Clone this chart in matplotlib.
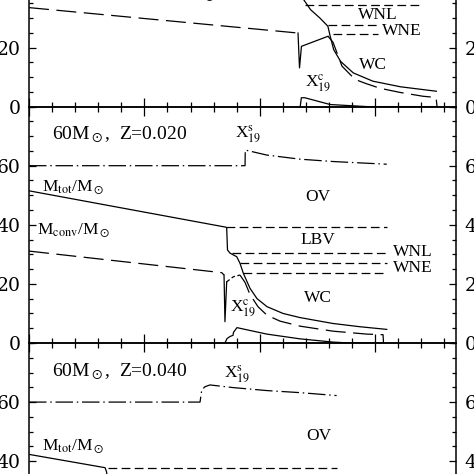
import matplotlib
matplotlib.use("Agg")
import matplotlib.pyplot as plt
from matplotlib.ticker import MultipleLocator, FixedLocator

plt.rcParams['font.family'] = ['Liberation Serif', 'DejaVu Serif']
plt.rcParams['mathtext.fontset'] = 'stix'

# ---- upper panel (only its lower part is visible) ----
t_tot_a = [0.00, 2.33, 2.36, 2.38, 2.44, 2.52, 2.59, 2.61, 2.64, 2.70, 2.81, 2.98, 3.22, 3.53]
m_tot_a = [57.0, 41.0, 38.5, 36.2, 32.8, 30.0, 27.2, 23.8, 19.3, 15.3, 11.4, 8.6, 6.7, 5.2]
t_conv_a = [0.00, 2.331, 2.344, 2.361, 2.591, 2.634, 2.712, 2.825, 2.920, 3.042, 3.215, 3.414, 3.527, 3.536]
m_conv_a = [33.5, 24.9, 13.1, 20.4, 23.8, 21.8, 13.7, 9.2, 7.8, 6.2, 4.8, 3.5, 3.1, 0.0]
t_x19c_a = [2.35, 2.36, 2.39, 2.61, 2.93, 3.535]
x19c_a = [0.0, 3.0, 3.0, 0.7, 0.0, 0.0]
bound_a_y = [34.5, 27.5, 24.6]
bound_a_t0 = [2.39, 2.59, 2.63]
bound_a_t1 = [3.41, 3.02, 3.02]

# ---- middle panel: 60 Msun, Z=0.020 ----
t_x19s_b = [0.00, 1.872, 1.874, 2.06, 2.35, 2.64, 3.10]
x19s_b = [60.0, 60.0, 65.3, 63.6, 62.2, 61.4, 60.5]
t_tot_b = [0.0, 1.705, 1.713, 1.720, 1.742, 1.800, 1.828, 1.857, 1.915, 1.976,
           2.062, 2.201, 2.348, 2.634, 2.868, 3.100]
m_tot_b = [51.5, 39.2, 39.0, 31.5, 30.4, 29.2, 27.0, 23.6, 18.5, 15.0,
           12.3, 10.0, 8.6, 6.6, 5.5, 4.6]
t_conv_b = [0.0, 1.670, 1.690, 1.698, 1.713, 1.770, 1.828, 1.872, 1.915, 1.984,
            2.062, 2.175, 2.348, 2.634, 2.929, 3.068, 3.072]
m_conv_b = [31.1, 23.8, 23.0, 7.2, 20.7, 22.4, 23.0, 20.5, 16.4, 12.3,
            9.4, 7.4, 5.7, 4.0, 3.0, 2.8, 0.0]
t_x19c_b = [1.698, 1.716, 1.742, 1.768, 1.772, 1.802, 1.872, 2.062, 2.348, 2.634, 2.782, 3.068]
x19c_b = [0.0, 1.5, 2.2, 2.6, 3.6, 5.2, 4.6, 3.0, 1.4, 0.3, 0.0, 0.0]
bound_b_y = [39.1, 30.4, 27.0, 23.6]
bound_b_t0 = [1.707, 1.757, 1.828, 1.857]
bound_b_t1 = [3.10, 3.10, 3.10, 3.10]

# ---- lower panel: 60 Msun, Z=0.040 (only its upper part is visible) ----
t_x19s_c = [0.00, 1.482, 1.497, 1.525, 1.568, 1.770, 2.060, 2.348, 2.666]
x19s_c = [60.0, 60.0, 64.1, 65.2, 65.8, 64.9, 63.9, 63.2, 62.2]
t_tot_c = [0.00, 0.659, 0.672, 0.68]
m_tot_c = [42.3, 37.8, 36.4, 34.0]
bound_c_y = [37.6]
bound_c_t0 = [0.685]
bound_c_t1 = [2.669]

LONG = (0, (16, 6))
SHORT = (0, (7, 3.5))
FINE = (0, (3, 2))
DASHDOT = (0, (14, 3, 1.2, 3))
FS = 12.5
LW = 0.9


def setup_axes(ax):
    ax.set_facecolor('none')
    ax.set_xlim(0, 3.7)
    ax.set_ylim(0, 80)
    ax.xaxis.set_major_locator(MultipleLocator(1))
    ax.xaxis.set_minor_locator(MultipleLocator(0.2))
    ax.yaxis.set_major_locator(FixedLocator([0, 20, 40, 60]))
    ax.yaxis.set_minor_locator(MultipleLocator(5))
    ax.tick_params(axis='x', which='major', direction='inout', length=13, width=0.9,
                   bottom=True, top=False, labelbottom=False)
    ax.tick_params(axis='x', which='minor', direction='inout', length=6.5, width=0.9,
                   bottom=True, top=False)
    ax.tick_params(axis='y', which='major', direction='in', length=5, width=0.9,
                   left=True, right=True, labelleft=True, labelright=True,
                   labelsize=13.5, pad=6)
    ax.tick_params(axis='y', which='minor', direction='in', length=3, width=0.9,
                   left=True, right=True)
    for lab in ax.get_yticklabels():
        lab.set_family('DejaVu Serif')
    for s in ax.spines.values():
        s.set_linewidth(1.1)


def boundaries(ax, ys, t0, t1):
    for y, a, b in zip(ys, t0, t1):
        ax.plot([a, b], [y, y], color='k', lw=LW, linestyle=SHORT)


fig = plt.figure(figsize=(4.74, 4.74), dpi=100)
left, width, height = 0.0612, 0.9008, 0.4987
ax1 = fig.add_axes([left, 0.7751, width, height])
ax2 = fig.add_axes([left, 0.2764, width, height])
ax3 = fig.add_axes([left, 0.2764 - height, width, height])
for ax in (ax1, ax2, ax3):
    setup_axes(ax)

# upper panel
ax1.plot(t_tot_a, m_tot_a, color='k', lw=LW)
ax1.plot(t_conv_a[:2], m_conv_a[:2], color='k', lw=LW, linestyle=LONG)
ax1.plot(t_conv_a[1:5], m_conv_a[1:5], color='k', lw=LW)   # spike + hook, drawn solid
ax1.plot(t_conv_a[4:], m_conv_a[4:], color='k', lw=LW, linestyle=LONG)
ax1.plot(t_x19c_a, x19c_a, color='k', lw=LW)
boundaries(ax1, bound_a_y, bound_a_t0, bound_a_t1)
ax1.text(0.98, 38.1, r'M$_{\rm conv}$/M$_\odot$', fontsize=FS, va='center')
ax1.text(2.85, 31.1, 'WNL', fontsize=FS, va='center')
ax1.text(3.06, 25.5, 'WNE', fontsize=FS, va='center')
ax1.text(2.98, 14.2, 'WC', fontsize=FS, va='center', ha='center')
ax1.text(2.39, 7.8, r'X$^{\rm c}_{19}$', fontsize=FS, va='center')

# middle panel
ax2.plot(t_x19s_b, x19s_b, color='k', lw=LW, linestyle=DASHDOT)
ax2.plot(t_tot_b, m_tot_b, color='k', lw=LW)
ax2.plot(t_conv_b[:3], m_conv_b[:3], color='k', lw=LW, linestyle=LONG)
ax2.plot(t_conv_b[2:5], m_conv_b[2:5], color='k', lw=LW)   # spike, drawn solid
ax2.plot(t_conv_b[4:7], m_conv_b[4:7], color='k', lw=LW, linestyle=FINE)
ax2.plot(t_conv_b[6:], m_conv_b[6:], color='k', lw=LW, linestyle=LONG)
ax2.plot(t_x19c_b, x19c_b, color='k', lw=LW)
boundaries(ax2, bound_b_y, bound_b_t0, bound_b_t1)
ax2.text(0.2, 70.4, r'60M$_\odot$,  Z=0.020', fontsize=14, va='center')
ax2.text(1.90, 70.6, r'X$^{\rm s}_{19}$', fontsize=FS, va='center', ha='center')
ax2.text(0.11, 52.8, r'M$_{\rm tot}$/M$_\odot$', fontsize=FS, va='center')
ax2.text(0.07, 38.2, r'M$_{\rm conv}$/M$_\odot$', fontsize=FS, va='center')
ax2.text(2.50, 49.5, 'OV', fontsize=FS, va='center', ha='center')
ax2.text(2.50, 34.9, 'LBV', fontsize=FS, va='center', ha='center')
ax2.text(3.15, 30.8, 'WNL', fontsize=FS, va='center')
ax2.text(3.15, 25.3, 'WNE', fontsize=FS, va='center')
ax2.text(2.50, 15.2, 'WC', fontsize=FS, va='center', ha='center')
ax2.text(1.74, 11.8, r'X$^{\rm c}_{19}$', fontsize=FS, va='center')

# lower panel
ax3.plot(t_x19s_c, x19s_c, color='k', lw=LW, linestyle=DASHDOT)
ax3.plot(t_tot_c, m_tot_c, color='k', lw=LW)
boundaries(ax3, bound_c_y, bound_c_t0, bound_c_t1)
ax3.text(0.2, 70.4, r'60M$_\odot$,  Z=0.040', fontsize=14, va='center')
ax3.text(1.80, 69.5, r'X$^{\rm s}_{19}$', fontsize=FS, va='center', ha='center')
ax3.text(2.51, 48.5, 'OV', fontsize=FS, va='center', ha='center')
ax3.text(0.11, 45.1, r'M$_{\rm tot}$/M$_\odot$', fontsize=FS, va='center')

fig.savefig('out.png', dpi=100)
